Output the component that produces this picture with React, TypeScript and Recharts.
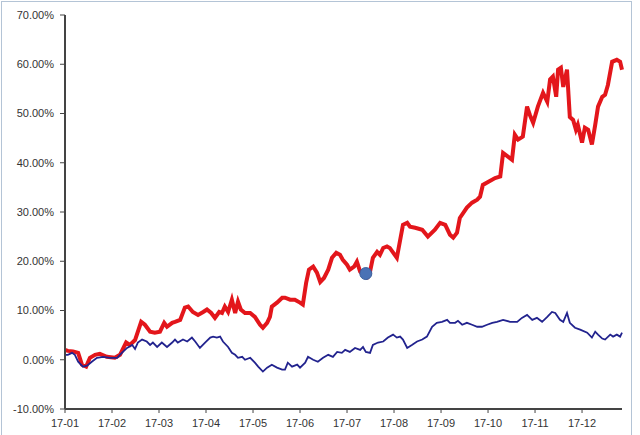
import React from 'react';
import { LineChart, Line, XAxis, YAxis, ReferenceDot } from 'recharts';

// month ticks (0 = Jan 2017)
const monthLabels = ['17-01', '17-02', '17-03', '17-04', '17-05', '17-06', '17-07', '17-08', '17-09', '17-10', '17-11', '17-12'];
const yTicks = [-10, 0, 10, 20, 30, 40, 50, 60, 70];

// red series: position in months, cumulative return in %
const redMonths = [
  0.0, 0.06, 0.17, 0.28, 0.36, 0.45, 0.53, 0.64, 0.74, 0.89, 1.06, 1.17, 1.3, 1.38, 1.49, 1.62, 1.7, 1.81, 1.91, 2.02,
  2.11, 2.17, 2.28, 2.34, 2.45, 2.55, 2.62, 2.72, 2.83, 2.94, 3.02, 3.11, 3.19, 3.28, 3.34, 3.4, 3.47, 3.55, 3.62, 3.68,
  3.74, 3.83, 3.94, 4.04, 4.15, 4.21, 4.3, 4.36, 4.4, 4.51, 4.62, 4.68, 4.79, 4.89, 5.0, 5.06, 5.13, 5.19, 5.28, 5.36,
  5.43, 5.51, 5.6, 5.68, 5.77, 5.85, 5.91, 6.0, 6.06, 6.15, 6.21, 6.28, 6.34, 6.43, 6.49, 6.55, 6.64, 6.7, 6.77, 6.85,
  6.91, 7.06, 7.19, 7.28, 7.34, 7.45, 7.6, 7.72, 7.87, 7.98, 8.09, 8.19, 8.26, 8.34, 8.4, 8.55, 8.66, 8.77, 8.83, 8.89,
  9.0, 9.15, 9.26, 9.32, 9.43, 9.51, 9.57, 9.64, 9.74, 9.83, 9.89, 9.96, 10.06, 10.17, 10.26, 10.32, 10.38, 10.45, 10.49, 10.55,
  10.6, 10.68, 10.74, 10.81, 10.87, 10.91, 11.0, 11.06, 11.13, 11.21, 11.28, 11.34, 11.43, 11.49, 11.55, 11.64, 11.74, 11.81, 11.85,
];
const redValues = [
  2.0, 1.8, 1.7, 1.4, -1.0, -1.4, 0.4, 1.0, 1.2, 0.6, 0.4, 1.0, 3.5, 3.0, 4.0, 7.7, 7.1, 5.7, 5.5, 5.7,
  7.5, 6.7, 7.5, 7.7, 8.1, 10.6, 10.8, 9.7, 9.1, 9.7, 10.2, 9.5, 8.5, 9.7, 9.5, 10.8, 9.7, 12.2, 9.5, 11.8,
  10.2, 9.5, 9.5, 8.7, 7.1, 6.5, 7.5, 8.7, 10.8, 11.6, 12.6, 12.6, 12.2, 12.2, 11.6, 11.2, 15.6, 18.3, 18.9, 17.7,
  15.8, 16.6, 18.3, 20.7, 21.7, 21.3, 20.3, 19.3, 18.3, 18.9, 19.9, 17.9, 17.3, 16.8, 17.9, 20.7, 21.9, 21.3, 22.7, 23.0,
  22.7, 20.7, 27.4, 27.8, 27.0, 26.8, 26.4, 25.0, 26.4, 27.8, 27.4, 25.4, 24.8, 25.8, 28.8, 30.9, 31.9, 32.5, 33.1, 35.5,
  36.1, 36.9, 37.2, 42.0, 41.2, 40.6, 45.7, 44.7, 45.3, 51.4, 49.7, 48.1, 51.4, 54.2, 52.4, 56.9, 57.5, 53.4, 58.9, 59.3,
  55.4, 58.9, 49.3, 48.7, 46.7, 47.7, 44.1, 47.1, 46.7, 43.7, 47.7, 51.4, 53.4, 53.8, 55.8, 60.5, 60.9, 60.5, 58.9,
];

// blue series (benchmark)
const blueMonths = [
  0.0, 0.06, 0.15, 0.21, 0.28, 0.38, 0.47, 0.57, 0.68, 0.81, 0.96, 1.11, 1.21, 1.32, 1.43, 1.49, 1.55, 1.64, 1.74, 1.81,
  1.87, 1.96, 2.06, 2.17, 2.28, 2.34, 2.4, 2.51, 2.6, 2.7, 2.77, 2.87, 2.98, 3.09, 3.15, 3.23, 3.3, 3.36, 3.47, 3.55,
  3.62, 3.68, 3.77, 3.83, 3.94, 4.04, 4.11, 4.21, 4.3, 4.4, 4.51, 4.62, 4.68, 4.74, 4.83, 4.94, 5.0, 5.11, 5.17, 5.28,
  5.38, 5.49, 5.6, 5.7, 5.79, 5.89, 5.96, 6.06, 6.17, 6.28, 6.34, 6.4, 6.49, 6.55, 6.66, 6.77, 6.87, 6.98, 7.06, 7.13,
  7.19, 7.28, 7.38, 7.49, 7.6, 7.7, 7.81, 7.91, 8.02, 8.13, 8.19, 8.3, 8.36, 8.45, 8.55, 8.66, 8.77, 8.87, 8.98, 9.09,
  9.19, 9.32, 9.47, 9.62, 9.72, 9.83, 9.94, 10.04, 10.15, 10.26, 10.36, 10.43, 10.53, 10.6, 10.68, 10.74, 10.85, 10.96, 11.11, 11.21,
  11.28, 11.34, 11.43, 11.49, 11.6, 11.66, 11.74, 11.81, 11.85,
];
const blueValues = [
  1.0, 1.0, 1.4, 1.0, -0.4, -1.4, -1.2, -0.4, 0.4, 0.6, 0.4, 0.4, 1.4, 2.4, 3.0, 2.2, 3.5, 4.1, 3.7, 3.0,
  3.5, 2.6, 3.5, 2.6, 3.5, 4.1, 3.5, 4.1, 3.7, 4.5, 3.7, 2.4, 3.5, 4.5, 4.7, 4.5, 4.7, 3.7, 2.6, 1.4,
  1.0, 0.4, 0.6, 0.0, 0.4, -0.6, -1.4, -2.4, -1.6, -1.0, -1.6, -2.0, -2.0, -0.6, -1.4, -1.0, -1.6, -0.6, 0.6, 0.0,
  -0.4, 0.4, 1.0, 0.6, 1.6, 1.4, 2.0, 1.6, 2.4, 2.0, 2.6, 1.6, 1.4, 3.0, 3.5, 3.7, 4.5, 5.1, 4.5, 4.7,
  4.1, 2.4, 3.0, 3.7, 4.1, 4.7, 6.7, 7.5, 7.7, 8.1, 7.5, 7.5, 7.9, 7.1, 7.5, 7.1, 6.7, 6.7, 7.1, 7.5,
  7.7, 8.1, 7.7, 7.7, 8.5, 9.1, 8.1, 8.5, 7.7, 8.7, 9.7, 9.5, 8.1, 7.7, 9.5, 7.5, 6.5, 6.1, 5.5, 4.5,
  5.7, 5.1, 4.3, 4.1, 5.1, 4.7, 5.1, 4.7, 5.5,
];

// highlighted point on the red line
const markerMonth = 6.4;
const markerValue = 17.5;

const redData = redMonths.map((m, i) => ({ m, v: redValues[i] }));
const blueData = blueMonths.map((m, i) => ({ m, v: blueValues[i] }));

const tickStyle = { fontSize: 11, fill: '#333', fontFamily: '"Liberation Sans", Arial, sans-serif' };

const App: React.FC = () => {
  return (
    <div style={{ position: 'absolute', left: 0, top: 0, width: 640, height: 435, background: '#fff', overflow: 'hidden' }}>
      <div
        style={{
          position: 'absolute',
          left: 1,
          top: 1,
          width: 631,
          height: 450,
          border: '1px solid #b4c4d6',
          boxSizing: 'border-box',
        }}
      />
      <LineChart width={640} height={435} margin={{ top: 15, right: 18, bottom: 0, left: 0 }}>
        <XAxis
          dataKey="m"
          type="number"
          domain={[0, 11.85]}
          ticks={monthLabels.map((_, i) => i)}
          tickFormatter={(i: number) => monthLabels[i]}
          interval={0}
          height={26}
          tickSize={4}
          tickMargin={6}
          tick={tickStyle}
          axisLine={{ stroke: '#444', strokeWidth: 2 }}
          tickLine={{ stroke: '#444' }}
          allowDuplicatedCategory={false}
        />
        <YAxis
          type="number"
          domain={[-10, 70]}
          ticks={yTicks}
          tickFormatter={(v: number) => `${v.toFixed(2)}%`}
          width={65}
          tickSize={5}
          tickMargin={6}
          tick={tickStyle}
          axisLine={{ stroke: '#444', strokeWidth: 2 }}
          tickLine={{ stroke: '#444' }}
        />
        <Line
          data={redData}
          dataKey="v"
          type="linear"
          stroke="#e3161b"
          strokeWidth={4}
          dot={false}
          isAnimationActive={false}
        />
        <Line
          data={blueData}
          dataKey="v"
          type="linear"
          stroke="#22238e"
          strokeWidth={1.8}
          dot={false}
          isAnimationActive={false}
        />
        <ReferenceDot x={markerMonth} y={markerValue} r={6} fill="#4a72b5" stroke="#3a5e9c" strokeWidth={1} />
      </LineChart>
    </div>
  );
};

export default App;
